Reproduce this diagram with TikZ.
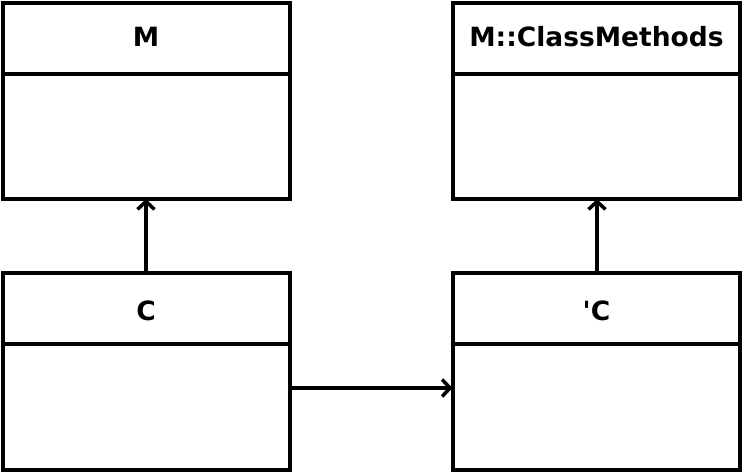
\documentclass[tikz,border=0pt]{standalone}
\usepackage{fontspec}
\setmainfont{DejaVu Sans}
\usetikzlibrary{arrows.meta}
\begin{document}
\begin{tikzpicture}[x=1pt,y=-1pt,
  boxline/.style={line width=4pt},
  lbl/.style={font=\fontsize{26.5}{30}\selectfont\bfseries},
  conn/.style={line width=3.5pt,-{Straight Barb[length=8pt,width=17pt,line width=3.5pt]}}]
\useasboundingbox (0,0) rectangle (742,472);
% boxes
\draw[boxline] (2.5,2.5) rectangle (289.5,199);
\draw[boxline] (2.5,74) -- (289.5,74);
\node[lbl] (m) at (146,37) {M};
\coordinate (mb) at (146,199);

\draw[boxline] (452.5,2.5) rectangle (739.5,199);
\draw[boxline] (452.5,74) -- (739.5,74);
\node[lbl] (mc) at (596.5,37) {M::ClassMethods};
\coordinate (mcb) at (597,199);

\draw[boxline] (2.5,272.5) rectangle (289.5,469.5);
\draw[boxline] (2.5,344) -- (289.5,344);
\node[lbl] (c) at (146,311) {C};
\coordinate (ct) at (146,272.5);
\coordinate (cr) at (289.5,388);

\draw[boxline] (452.5,272.5) rectangle (739.5,469.5);
\draw[boxline] (452.5,344) -- (739.5,344);
\node[lbl] (cc) at (596.5,311) {\textquotesingle C};
\coordinate (cct) at (597,272.5);
\coordinate (ccl) at (452.5,388);

\draw[conn] (ct) -- (mb);
\draw[conn] (cct) -- (mcb);
\draw[conn] (cr) -- (ccl);
\end{tikzpicture}
\end{document}
